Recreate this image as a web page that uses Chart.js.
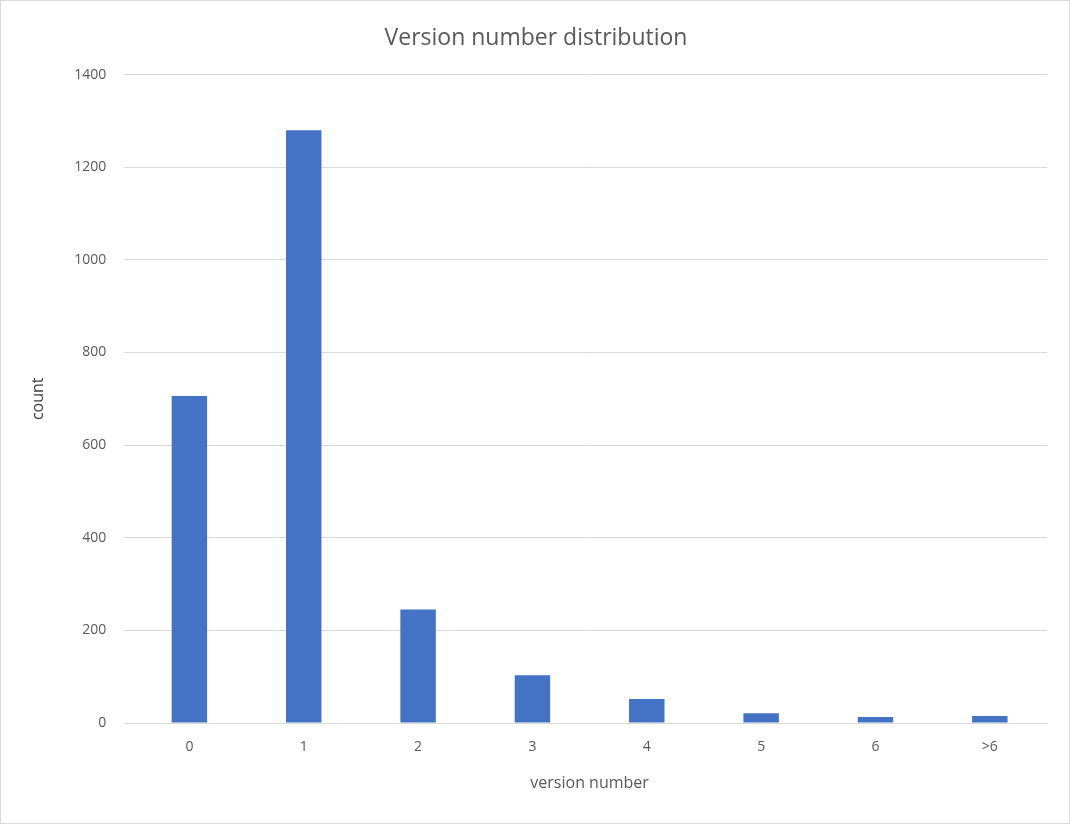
<!DOCTYPE html>
<html><head><meta charset="utf-8">
<script src="https://cdn.jsdelivr.net/npm/chart.js@4"></script>
<style>html,body{margin:0;padding:0;background:#fff}
#wrap{position:absolute;left:0;top:0;width:1068px;height:822px;border:1px solid #d9d9d9}
</style></head><body>
<div id="wrap"><canvas id="c"></canvas></div>
<script>
const categories = ["0","1","2","3","4","5","6",">6"];
const counts = [706,1280,245,103,52,21,13,15];
const yTicks = [0,200,400,600,800,1000,1200,1400];
const font = "'Open Sans', sans-serif";
new Chart(document.getElementById('c'), {
  type:'bar',
  data:{labels:categories,datasets:[{data:counts,backgroundColor:'#4472c4',barPercentage:0.31,categoryPercentage:1}]},
  options:{responsive:true,maintainAspectRatio:false,animation:false,
    layout:{padding:{left:24,right:22,top:14,bottom:26}},
    plugins:{legend:{display:false},tooltip:{enabled:false},
      title:{display:true,text:'Version number distribution',color:'#595959',font:{family:font,size:23,weight:'normal'},padding:{top:10,bottom:22}}},
    scales:{
      x:{grid:{display:false},border:{color:'#d9d9d9'},ticks:{color:'#595959',padding:8,font:{family:font,size:14}},
        title:{display:true,text:'version number',color:'#595959',font:{family:font,size:16},padding:{top:10}}},
      y:{min:0,max:1400,afterBuildTicks:a=>{a.ticks=yTicks.map(v=>({value:v}));},
        grid:{color:'#d9d9d9'},border:{display:false},ticks:{color:'#595959',padding:18,font:{family:font,size:14},callback:v=>String(v)},
        title:{display:true,text:'count',color:'#404040',font:{family:font,size:16},padding:{bottom:8}}}
    }}
});
</script></body></html>
